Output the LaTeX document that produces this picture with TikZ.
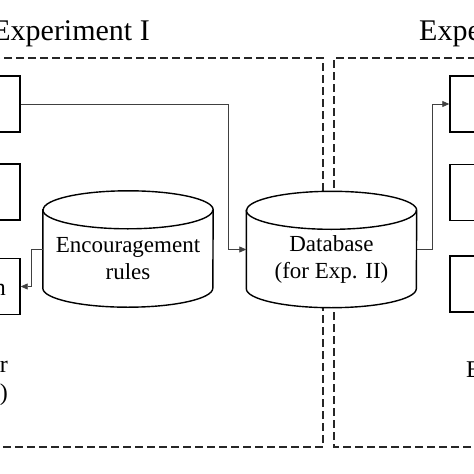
\documentclass[tikz,border=0pt]{standalone}
\usepackage{fontspec}
\setmainfont{Liberation Serif}
\usetikzlibrary{positioning,shapes.geometric,arrows.meta,calc}

\begin{document}
\begin{tikzpicture}[x=1pt,y=-1pt,
    unit/.style={rectangle, draw, line width=1.4pt, minimum width=80pt, minimum height=56pt},
    drum/.style={rectangle, minimum width=170pt, minimum height=78pt, inner sep=0pt},
    drumline/.style={draw, line width=1.4pt},
    storetext/.style={align=center, font=\fontsize{23}{27}\selectfont, inner sep=0pt},
    frame/.style={draw=black!85, line width=1.6pt, dash pattern=on 8pt off 4pt},
    link/.style={draw=black!75, line width=0.8pt, -{Triangle[length=7pt,width=6pt]}},
    title/.style={font=\fontsize{30}{34}\selectfont, inner sep=0pt},
    label/.style={font=\fontsize{24}{28}\selectfont, inner sep=0pt},
]
\useasboundingbox (0,0) rectangle (474,474);

% Experiment frames
\draw[frame] (-40,58) rectangle (323,447);
\draw[frame] (514,58) rectangle (334,447);
\node[title, anchor=base east] (exp1) at (150,40) {Experiment I};
\node[title, anchor=base west] (exp2) at (419,40) {Experiment II};

% Left and right blocks
\foreach \i/\y in {1/104,2/192,3/286.5}
    \node[unit] (lb\i) at (-20,\y) {};
\foreach \i/\y in {1/104,2/192.5,3/284}
    \node[unit] (rb\i) at (490,\y) {};
\node[label, anchor=base east] (lb3text) at (6,295) {n};
\node[label, anchor=base east, align=right] (lblab) at (8,400) {r\\)};
\node[label, anchor=base west] (rblab) at (466,377) {E};

% Stores
\node[drum] (rules) at (128,249) {};
\node[drum] (db) at (331.5,249.5) {};
\foreach \s in {rules,db}{
    \draw[drumline, fill=white] (\s.north west) -- (\s.south west)
        arc[start angle=180, end angle=360, x radius=85pt, y radius=19pt]
        -- (\s.north east)
        arc[start angle=0, end angle=180, x radius=85pt, y radius=19pt] -- cycle;
    \draw[drumline] (\s.north west)
        arc[start angle=180, end angle=360, x radius=85pt, y radius=19pt];
}
\node[storetext] (rulestext) at (128,259) {Encouragement\\rules};
\node[storetext] (dbtext) at (331.5,259) {Database\\(for Exp. II)};

% Connections
\draw[link] (lb1.east) -- ++(208,0) |- (db.west);
\draw[link] (rules.west) -- ++(-11,0) |- (lb3.east);
\draw[link] (db.east) -- ++(16,0) |- (rb1.west);

\end{tikzpicture}
\end{document}
